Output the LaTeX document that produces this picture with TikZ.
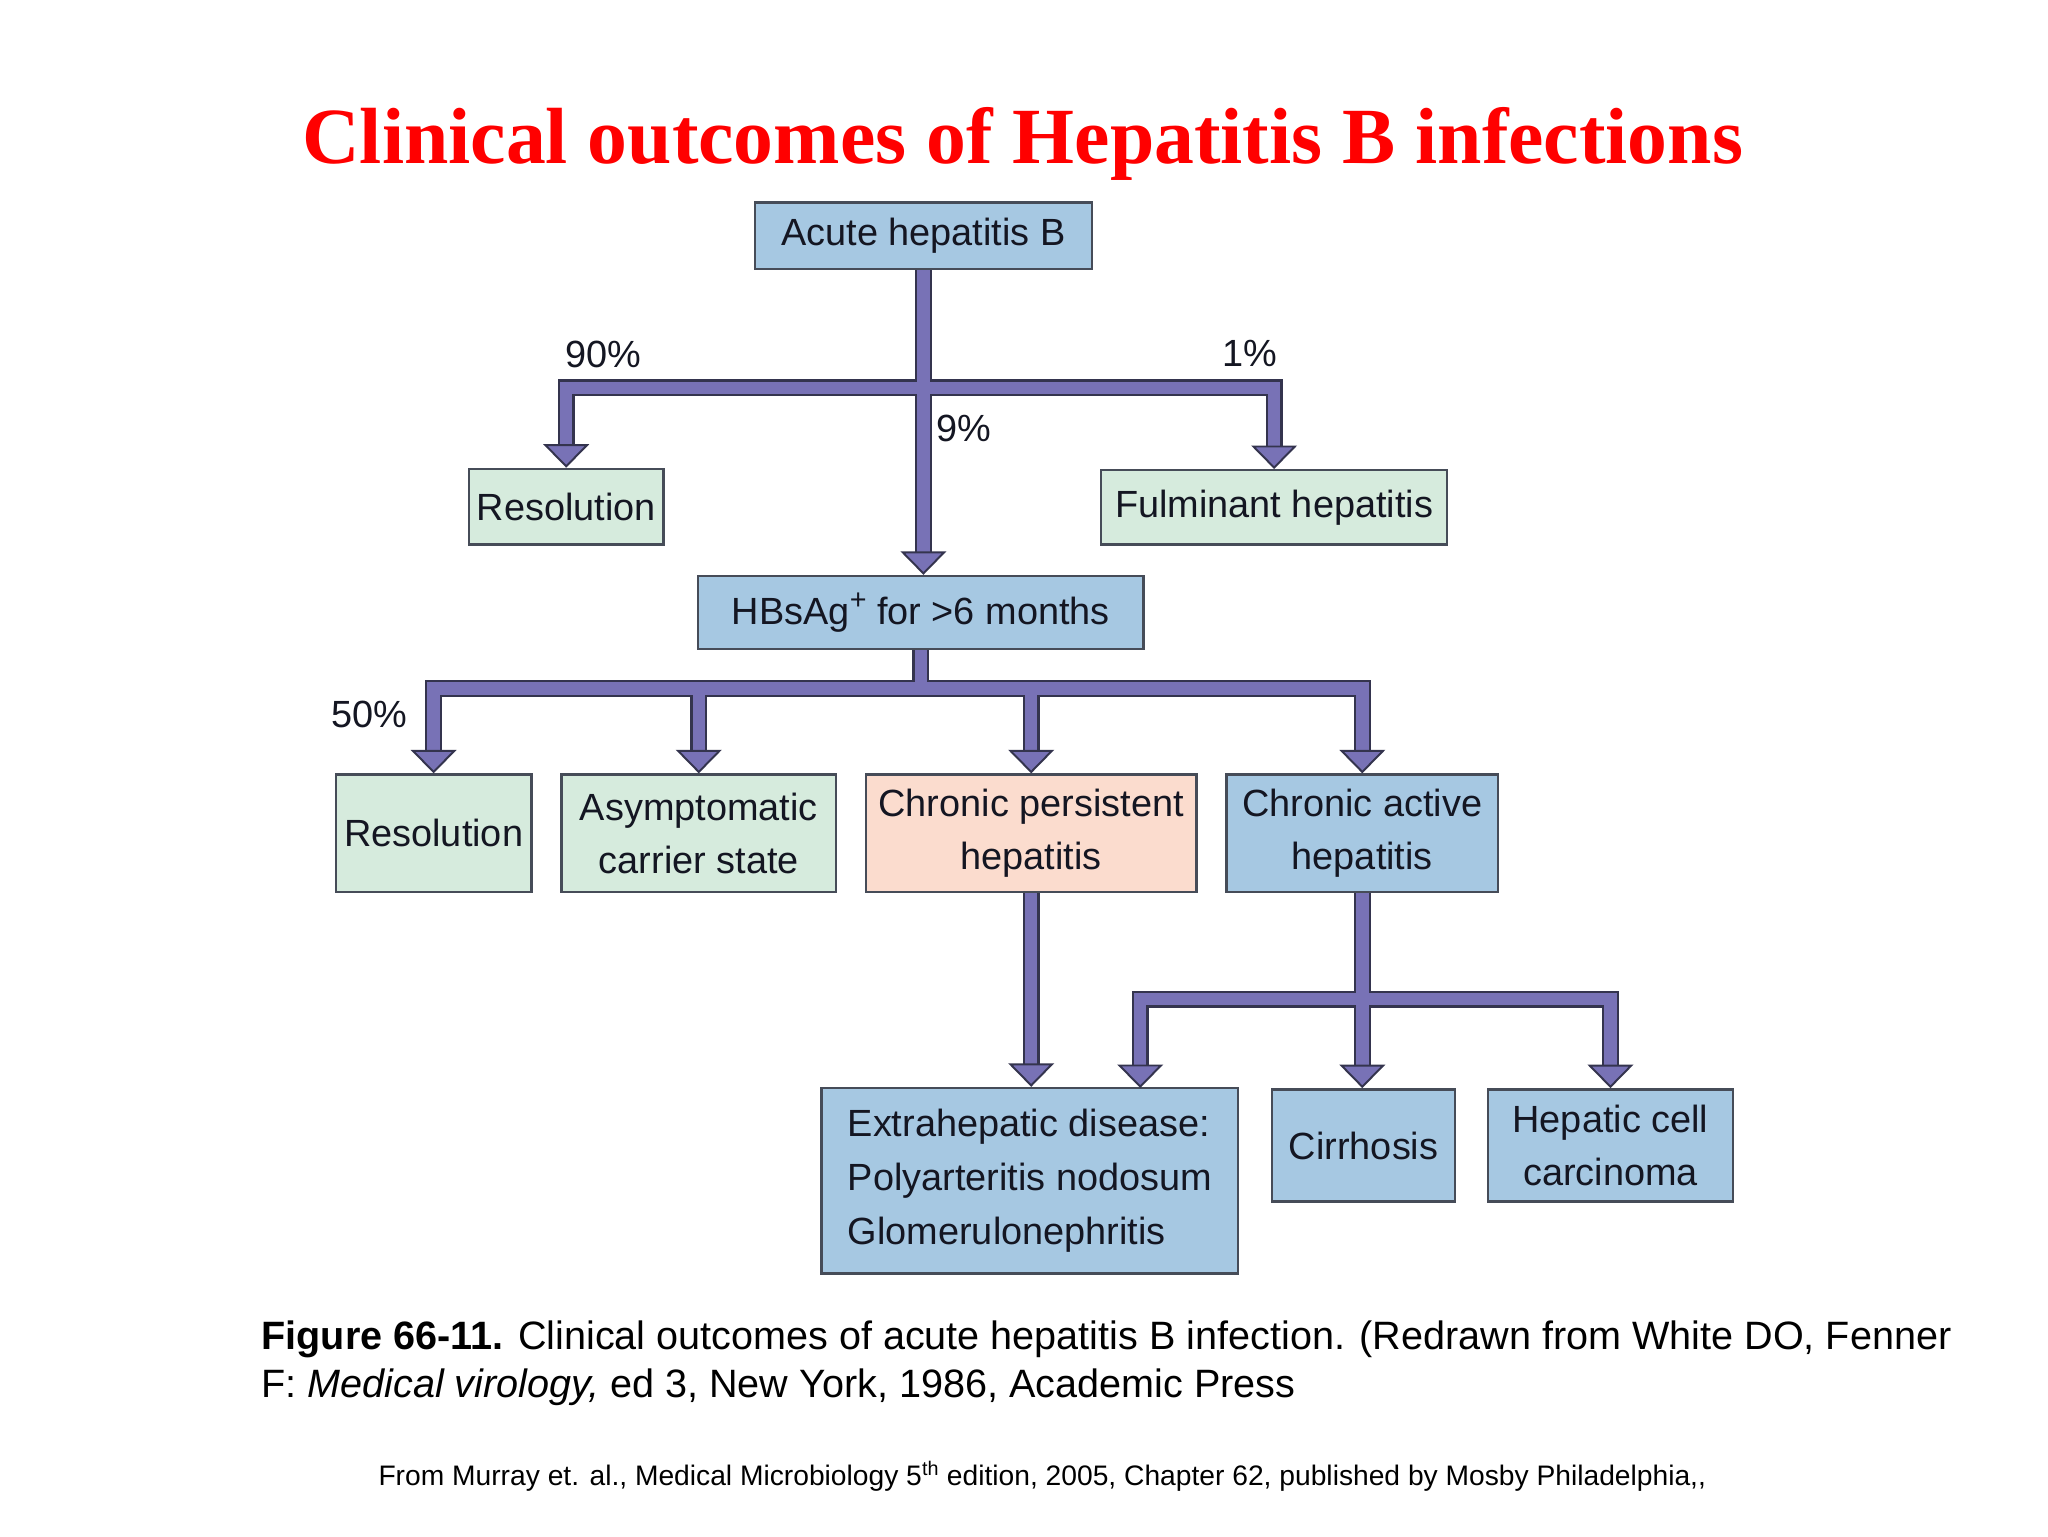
\documentclass[tikz,border=0pt]{standalone}
\usepackage{fontspec}
\setmainfont{Liberation Sans}
\newfontfamily\titlefont{Liberation Serif}
\usetikzlibrary{arrows.meta}
\definecolor{boxblue}{RGB}{166,200,226}
\definecolor{boxgreen}{RGB}{214,235,221}
\definecolor{boxpink}{RGB}{251,220,206}
\definecolor{pipefill}{RGB}{120,114,182}
\definecolor{pipeedge}{RGB}{52,52,78}
\definecolor{boxedge}{RGB}{70,76,88}
\definecolor{titlered}{RGB}{255,0,0}
\definecolor{boxtext}{RGB}{20,22,34}
\newcommand\pipework[2]{%
  \draw[#1] (acute.south) -- (acute.south |- hbs.north);
  \draw[#1] (j1) -| (res1.north);
  \draw[#1] (j1) -| (ful.north);
  \draw[#2] (hbs.south) -- (j2);
  \draw[#1] (j2) -| (res2.north);
  \draw[#1] (j2) -| (asym.north);
  \draw[#1] (j2) -| (cph.north);
  \draw[#1] (j2) -| (cah.north);
  \draw[#1] (cph.south) -- (cph.south |- extra.north);
  \draw[#2] (cah.south) -- (j3);
  \draw[#1] (j3) -| (e2);
  \draw[#1] (j3) -- (j3 |- cirr.north);
  \draw[#1] (j3) -| (hcc.north);
}
\begin{document}
\begin{tikzpicture}[x=1pt,y=-1pt,
  box/.style={draw=boxedge, line width=1.8pt, inner sep=0pt, align=center,
    text=boxtext, font=\fontsize{29}{41}\selectfont},
  bluebox/.style={box, fill=boxblue},
  greenbox/.style={box, fill=boxgreen},
  pinkbox/.style={box, fill=boxpink},
  pct/.style={font=\fontsize{29}{34}\selectfont, text=boxtext, inner sep=0pt},
  pipeout/.style={draw=pipeedge, line width=13pt},
  pipeoutarr/.style={pipeout, shorten >=13pt},
  pipein/.style={draw=pipefill, line width=9.5pt},
  pipeinarr/.style={pipein, -{Triangle[length=18pt,width=35pt,line width=1.5pt,fill=pipefill,color=pipeedge]}},
]
\useasboundingbox (0,0) rectangle (1568,1176);
\fill[white] (0,0) rectangle (1568,1176);

% title
\node[anchor=base, text=titlered, font=\titlefont\bfseries\fontsize{61}{70}\selectfont, inner sep=0pt] (title) at (783,125) {Clinical outcomes of Hepatitis B infections};

% boxes
\node[bluebox, minimum width=258pt, minimum height=51pt] (acute) at (707,180.5) {Acute hepatitis B};
\node[greenbox, minimum width=149pt, minimum height=58pt] (res1) at (433.5,388) {Resolution};
\node[greenbox, minimum width=265pt, minimum height=57pt] (ful) at (975.5,388.5) {Fulminant hepatitis};
\node[bluebox, minimum width=341pt, minimum height=56pt] (hbs) at (705,469) {HBsAg\raisebox{0.38em}{\fontsize{22}{22}\selectfont +} for >6 months};
\node[greenbox, minimum width=150pt, minimum height=90pt] (res2) at (332,638) {Resolution};
\node[greenbox, minimum width=210pt, minimum height=90pt] (asym) at (535,638) {Asymptomatic\\carrier state};
\node[pinkbox, minimum width=253pt, minimum height=90pt] (cph) at (789.5,638) {Chronic persistent\\hepatitis};
\node[bluebox, minimum width=208pt, minimum height=90pt] (cah) at (1043,638) {Chronic active\\hepatitis};
\node[bluebox, minimum width=319pt, minimum height=142pt, align=left] (extra) at (788.5,904) {Extrahepatic disease:\\Polyarteritis nodosum\\Glomerulonephritis};
\node[bluebox, minimum width=140pt, minimum height=86pt] (cirr) at (1044,877) {Cirrhosis};
\node[bluebox, minimum width=188pt, minimum height=86pt] (hcc) at (1233,877) {Hepatic cell\\carcinoma};

% junctions
\coordinate (y1) at (0,297);
\coordinate (y2) at (0,527);
\coordinate (y3) at (0,765);
\coordinate (j1) at (acute.south |- y1);
\coordinate (j2) at (hbs.south |- y2);
\coordinate (j3) at (cah.south |- y3);
\coordinate (e2) at (873,833);

% pipes: outlines first, then fills
\pipework{pipeoutarr}{pipeout}
\pipework{pipeinarr}{pipein}

% percentages
\node[pct] (p90) at (462,271) {90\%};
\node[pct] (p1) at (957,271) {1\%};
\node[pct] (p9) at (738,328) {9\%};
\node[pct] (p50) at (283,547) {50\%};

% caption
\node[anchor=base west, align=left, inner sep=0pt, font=\fontsize{30.3}{37}\selectfont] (caption) at (200,1070)
  {\textbf{Figure 66-11.} Clinical outcomes of acute hepatitis B infection. (Redrawn from White DO, Fenner\\
   F: \textit{Medical virology,} ed 3, New York, 1986, Academic Press};
\node[anchor=base, inner sep=0pt, font=\fontsize{21.6}{25}\selectfont] (source) at (798,1137)
  {From Murray et. al., Medical Microbiology 5\textsuperscript{th} edition, 2005, Chapter 62, published by Mosby Philadelphia,{},};
\end{tikzpicture}
\end{document}
